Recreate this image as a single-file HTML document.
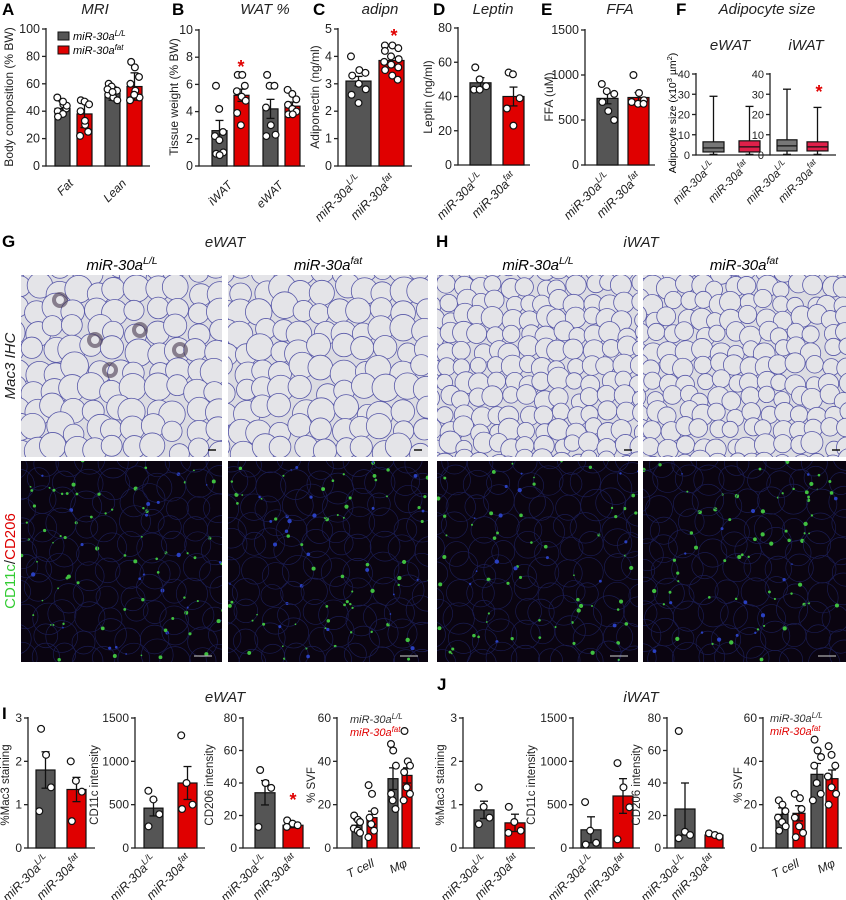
<!DOCTYPE html>
<html><head><meta charset="utf-8"><style>
html,body{margin:0;padding:0;background:#fff;}
svg{display:block;font-family:"Liberation Sans",Arial,sans-serif;}
</style></head><body>
<svg id="s" width="846" height="900" viewBox="0 0 846 900" xmlns="http://www.w3.org/2000/svg"></svg>
<script>
const S=[];let seed=7;function rnd(){seed=(seed*16807)%2147483647;return seed/2147483647;}
const G="#555",R="#e00000";
function txt(x,y,s,o){o=o||{};S.push(`<text x="${x}" y="${y}" font-size="${o.fs||12}" fill="${o.c||'#222'}" text-anchor="${o.a||'start'}" ${o.i?'font-style="italic"':''} ${o.b?'font-weight="bold"':''} ${o.tr?`transform="${o.tr}"`:''}>${s}</text>`);}
function line(x1,y1,x2,y2,c,w){S.push(`<line x1="${x1}" y1="${y1}" x2="${x2}" y2="${y2}" stroke="${c||'#222'}" stroke-width="${w||1.3}"/>`);}
function axis(x,yT,yB,max,ticks,xEnd,fs){line(x,yT-1,x,yB+0.6);line(x,yB,xEnd,yB);
 ticks.forEach(v=>{const y=yB-v/max*(yB-yT);line(x-4,y,x,y);txt(x-6,y+4,v,{a:'end',fs:fs||12.5});});}
function Y(v,yT,yB,max){return yB-v/max*(yB-yT);}
function bar(x,w,v,yT,yB,max,c,err,pts){const y=Y(v,yT,yB,max);
 S.push(`<rect x="${x}" y="${y}" width="${w}" height="${yB-y}" fill="${c}" stroke="#111" stroke-width="1.2"/>`);
 if(err){const ye=Y(v+err,yT,yB,max),yl=Y(v-err,yT,yB,max);line(x+w/2,ye,x+w/2,yl,'#111',1.3);line(x+w/2-4,ye,x+w/2+4,ye,'#111',1.3);line(x+w/2-4,yl,x+w/2+4,yl,'#111',1.3);}
 (pts||[]).forEach((p,i)=>{const jx=x+w/2+((i%3)-1)*w*0.28+(rnd()-0.5)*2;S.push(`<circle cx="${jx}" cy="${Y(p,yT,yB,max)}" r="3.4" fill="#fff" stroke="#111" stroke-width="1.2"/>`);});}
function mlabel(x,y,sup,fs,c){fs=fs||12.5;S.push(`<text x="${x}" y="${y}" font-size="${fs}" font-style="italic" fill="${c||'#222'}" text-anchor="end" transform="rotate(-45 ${x} ${y})">miR-30a<tspan dy="-5" font-size="${fs*0.72}">${sup}</tspan></text>`);}
function ylab(x,y,s,fs){txt(x,y,s,{a:'middle',fs:fs||12,tr:`rotate(-90 ${x} ${y})`});}
function star(x,y){txt(x,y,'*',{a:'middle',fs:18,c:R,b:1});}
function letter(x,y,s){txt(x,y,s,{fs:17,b:1,c:'#000'});}

// ===== A
letter(2,15,'A');txt(95,14,'MRI',{a:'middle',fs:15,i:1});
axis(46,29,166,100,[0,20,40,60,80,100],150);ylab(13,97,'Body composition (% BW)');
bar(55,15,42,29,166,100,G,5,[50,45,42,40,38,44,36,47]);
bar(77,15,38,29,166,100,R,10,[48,47,45,40,30,25,22,33]);
bar(105,15,53,29,166,100,G,5,[60,58,55,52,50,48,56,54]);
bar(127,15,58,29,166,100,R,10,[76,72,65,60,55,50,48,52]);
S.push(`<rect x="58" y="32" width="11" height="8" fill="${G}" stroke="#111"/><rect x="58" y="46" width="11" height="8" fill="${R}" stroke="#111"/>`);
S.push(`<text x="73" y="40" font-size="11" font-style="italic">miR-30a<tspan dy="-4" font-size="8">L/L</tspan></text><text x="73" y="54" font-size="11" font-style="italic">miR-30a<tspan dy="-4" font-size="8">fat</tspan></text>`);
txt(74,184,'Fat',{a:'end',i:1,tr:'rotate(-45 74 184)'});txt(127,184,'Lean',{a:'end',i:1,tr:'rotate(-45 127 184)'});
// ===== B
letter(172,15,'B');txt(265,14,'WAT %',{a:'middle',fs:15,i:1});
axis(199,30,166,10,[0,2,4,6,8,10],305);ylab(178,97,'Tissue weight (% BW)');
bar(212,15,2.6,30,166,10,G,0.75,[5.9,4.2,2.5,2.2,1.9,1.0,0.9,0.8]);
bar(234,15,5.2,30,166,10,R,0.45,[6.7,6.7,5.9,5.5,5.1,4.8,3.9,3.0]);
bar(263,15,4.2,30,166,10,G,0.7,[6.7,5.9,5.9,4.3,3.0,2.3,2.2]);
bar(285,15,4.4,30,166,10,R,0.3,[5.6,5.3,4.9,4.5,4.2,4.0,3.8,3.8]);
star(241,73);
txt(233,186,'iWAT',{a:'end',i:1,tr:'rotate(-45 233 186)'});txt(284,186,'eWAT',{a:'end',i:1,tr:'rotate(-45 284 186)'});
// ===== C
letter(313,15,'C');txt(380,14,'adipn',{a:'middle',fs:15,i:1});
axis(338,29,166,5,[0,1,2,3,4,5],412);ylab(319,97,'Adiponectin (ng/ml)');
bar(346,25,3.1,29,166,5,G,0.17,[4.0,3.5,3.4,3.3,3.0,2.8,2.6,2.3]);
bar(379,25,3.85,29,166,5,R,0.1,[4.4,4.4,4.3,4.2,4.0,3.9,3.8,3.7,3.6,3.5,3.3,3.15]);
star(394,42);
mlabel(362,180,'L/L');mlabel(396,180,'fat');
// ===== D
letter(433,15,'D');txt(493,14,'Leptin',{a:'middle',fs:15,i:1});
axis(458,28,165,80,[0,20,40,60,80],530);ylab(432,97,'Leptin (ng/ml)');
bar(470,21,48,28,165,80,G,3,[57,50,46,44,44]);bar(503,21,40,28,165,80,R,5.5,[54,53,39,33,23]);
mlabel(484,178,'L/L');mlabel(517,178,'fat');
// ===== E
letter(541,15,'E');txt(620,14,'FFA',{a:'middle',fs:15,i:1});
axis(585,30,165,1500,[0,500,1000,1500],655);ylab(553,97,'FFA (uM)');
bar(597,21,740,30,165,1500,G,60,[900,820,790,700,600,500]);bar(628,21,750,30,165,1500,R,55,[1000,800,720,700,680,680]);
mlabel(611,178,'L/L');mlabel(642,178,'fat');
// ===== F
letter(676,15,'F');txt(767,14,'Adipocyte size',{a:'middle',fs:15,i:1});
txt(730,50,'eWAT',{a:'middle',fs:15,i:1});txt(806,50,'iWAT',{a:'middle',fs:15,i:1});
S.push(`<text x="0" y="0" font-size="10.5" text-anchor="middle" transform="translate(676 113) rotate(-90)">Adipocyte size (x10<tspan dy="-4" font-size="7.5">3</tspan><tspan dy="4"> µm</tspan><tspan dy="-4" font-size="7.5">2</tspan><tspan dy="4">)</tspan></text>`);
function box(x,w,mx,q3,med,q1,mn,c,yT,yB){const f=v=>Y(v,yT,yB,40);line(x+w/2,f(mx),x+w/2,f(mn),'#111',1.3);line(x+w/2-4,f(mx),x+w/2+4,f(mx),'#111',1.3);line(x+w/2-4,f(mn),x+w/2+4,f(mn),'#111',1.3);
 S.push(`<rect x="${x}" y="${f(q3)}" width="${w}" height="${f(q1)-f(q3)}" fill="${c}" stroke="#111" stroke-width="1.2"/>`);line(x,f(med),x+w,f(med),'#111',1.2);}
axis(696,74,155,40,[0,10,20,30,40],766,11);box(703,21,29,6.5,3.5,1.5,0.3,'#777',74,155);box(739,21,24,7,4,1.5,0.3,'#e0204a',74,155);
axis(770,74,155,40,[0,10,20,30,40],836,11);box(777,20,32.5,7.5,4.5,2,0.3,'#777',74,155);box(807,21,23.5,6.5,4,2,0.3,'#e0204a',74,155);star(819,98);
mlabel(716,166,'L/L',11.5);mlabel(750,166,'fat',11.5);mlabel(789,166,'L/L',11.5);mlabel(820,166,'fat',11.5);

// ===== G/H headers
letter(2,247,'G');letter(436,247,'H');
txt(225,247,'eWAT',{a:'middle',fs:15,i:1});txt(641,247,'iWAT',{a:'middle',fs:15,i:1});
[[122,'L/L'],[328,'fat'],[538,'L/L'],[744,'fat']].forEach(([x,s])=>S.push(`<text x="${x}" y="270" font-size="15" font-style="italic" text-anchor="middle">miR-30a<tspan dy="-6" font-size="10.5">${s}</tspan></text>`));
txt(0,0,'Mac3 IHC',{fs:15,i:1,a:'middle',tr:'translate(15 366) rotate(-90)'});
S.push(`<text font-size="15" text-anchor="middle" transform="translate(15 561) rotate(-90)"><tspan fill="#3c3">CD11c</tspan><tspan fill="#222">/</tspan><tspan fill="#d00">CD206</tspan></text>`);
const cols=[[21,222],[228,428],[437,638],[643,846]];
let cid=0;
cols.forEach(([x0,x1],k)=>{
 const y0=275,y1=457;cid++;
 S.push(`<clipPath id="c${cid}"><rect x="${x0}" y="${y0}" width="${x1-x0}" height="${y1-y0}"/></clipPath><g clip-path="url(#c${cid})"><rect x="${x0}" y="${y0}" width="${x1-x0}" height="${y1-y0}" fill="#dcdce2"/>`);
 const st=k<2?20:16;
 for(let y=y0-5;y<y1+10;y+=st)for(let x=x0-5;x<x1+10;x+=st){const r=st*0.5+rnd()*st*0.2;
  S.push(`<circle cx="${x+(rnd()-0.5)*st*0.5}" cy="${y+(rnd()-0.5)*st*0.5}" r="${r}" fill="#e4e4e8" stroke="#5858a8" stroke-width="0.8"/>`);}
 if(k==0){[[60,300],[95,340],[140,330],[110,370],[180,350]].forEach(([a,b])=>S.push(`<circle cx="${a}" cy="${b}" r="6" fill="none" stroke="#4a3a50" stroke-width="4" opacity="0.6"/>`));}
 S.push(`</g>`);line(x1-14,450,x1-6,450,'#111',1.5);
 const f0=461,f1=662;cid++;
 S.push(`<clipPath id="c${cid}"><rect x="${x0}" y="${f0}" width="${x1-x0}" height="${f1-f0}"/></clipPath><g clip-path="url(#c${cid})"><rect x="${x0}" y="${f0}" width="${x1-x0}" height="${f1-f0}" fill="#0a0410"/>`);
 for(let y=f0;y<f1+10;y+=22)for(let x=x0;x<x1+10;x+=22){const cx=x+(rnd()-0.5)*12,cy=y+(rnd()-0.5)*12,r=11+rnd()*5;
  S.push(`<circle cx="${cx}" cy="${cy}" r="${r}" fill="none" stroke="#1a1c50" stroke-width="0.7"/>`);
  const n=Math.floor(rnd()*3);for(let i=0;i<n;i++){const a=rnd()*6.28;S.push(`<circle cx="${cx+r*Math.cos(a)}" cy="${cy+r*Math.sin(a)}" r="${0.8+rnd()*1.4}" fill="${rnd()<0.75?'#40c040':'#2a40c0'}"/>`);}}
 S.push(`</g>`);line(x1-28,656,x1-10,656,'#aaa',1.2);
});

// ===== I
letter(2,719,'I');txt(225,702,'eWAT',{a:'middle',fs:15,i:1});
const yT=718,yB=848,bf=12;
axis(28,yT,yB,3,[0,1,2,3],95,bf);ylab(9,785,'%Mac3 staining',11.5);
bar(36,19,1.8,yT,yB,3,G,0.42,[2.75,2.15,1.4,0.85]);bar(67,19,1.35,yT,yB,3,R,0.28,[2.0,1.55,1.3,0.62]);
mlabel(50,860,'L/L');mlabel(82,860,'fat');
axis(135,yT,yB,1500,[0,500,1000,1500],205,bf);ylab(98,785,'CD11c intensity',11.5);
bar(144,19,460,yT,yB,1500,G,90,[660,560,390,250]);bar(178,19,750,yT,yB,1500,R,190,[1300,750,500,450]);
mlabel(157,860,'L/L');mlabel(192,860,'fat');
axis(243,yT,yB,80,[0,20,40,60,80],310,bf);ylab(213,785,'CD206 intensity',11.5);
bar(255,20,34,yT,yB,80,G,7.5,[48,40,37,13]);bar(283,20,14,yT,yB,80,R,1.5,[17,15,14,13]);star(293,806);
mlabel(268,860,'L/L');mlabel(298,860,'fat');
axis(337,yT,yB,60,[0,20,40,60],420,bf);ylab(315,785,'% SVF',11.5);
bar(352,10,10.5,yT,yB,60,G,2.5,[15,13,12,9,8,7]);bar(367,10,14,yT,yB,60,R,3,[29,25,17,14,11,8,5]);
bar(388,10,32,yT,yB,60,G,5,[48,45,38,25,22,18]);bar(402,10,33.5,yT,yB,60,R,3.5,[54,40,38,35,28,25,22]);
S.push(`<text x="350" y="723" font-size="11" font-style="italic" fill="#333">miR-30a<tspan dy="-4" font-size="8">L/L</tspan></text><text x="350" y="736" font-size="11" font-style="italic" fill="${R}">miR-30a<tspan dy="-4" font-size="8">fat</tspan></text>`);
txt(375,866,'T cell',{a:'end',i:1,tr:'rotate(-25 375 866)'});txt(408,866,'Mφ',{a:'end',i:1,tr:'rotate(-25 408 866)'});
// ===== J
letter(437,690,'J');txt(641,702,'iWAT',{a:'middle',fs:15,i:1});
axis(463,yT,yB,3,[0,1,2,3],535,bf);ylab(444,785,'%Mac3 staining',11.5);
bar(474,20,0.88,yT,yB,3,G,0.2,[1.4,0.95,0.7,0.55]);bar(505,20,0.58,yT,yB,3,R,0.2,[0.95,0.6,0.4,0.35]);
mlabel(488,860,'L/L');mlabel(520,860,'fat');
axis(573,yT,yB,1500,[0,500,1000,1500],640,bf);ylab(535,785,'CD11c intensity',11.5);
bar(581,20,210,yT,yB,1500,G,150,[530,200,60,40]);bar(613,20,600,yT,yB,1500,R,200,[980,700,470,100]);
mlabel(595,860,'L/L');mlabel(628,860,'fat');
axis(667,yT,yB,80,[0,20,40,60,80],725,bf);ylab(640,785,'CD206 intensity',11.5);
bar(675,20,24,yT,yB,80,G,16,[72,10,8,6]);bar(705,18,8,yT,yB,80,R,1,[9,8,7]);
mlabel(688,860,'L/L');mlabel(716,860,'fat');
axis(763,yT,yB,60,[0,20,40,60],842,bf);ylab(742,785,'% SVF',11.5);
bar(776,12,15.5,yT,yB,60,G,3,[22,20,17,14,12,10,8]);bar(793,12,16,yT,yB,60,R,3.5,[25,23,18,14,10,7,5]);
bar(811,12,34,yT,yB,60,G,5,[50,45,42,38,30,25,22]);bar(826,12,32,yT,yB,60,R,4,[47,43,38,33,28,25,20]);
S.push(`<text x="770" y="722" font-size="11" font-style="italic" fill="#333">miR-30a<tspan dy="-4" font-size="8">L/L</tspan></text><text x="770" y="735" font-size="11" font-style="italic" fill="${R}">miR-30a<tspan dy="-4" font-size="8">fat</tspan></text>`);
txt(800,866,'T cell',{a:'end',i:1,tr:'rotate(-25 800 866)'});txt(836,866,'Mφ',{a:'end',i:1,tr:'rotate(-25 836 866)'});

document.getElementById('s').innerHTML=S.join('');
</script>
</body></html>
